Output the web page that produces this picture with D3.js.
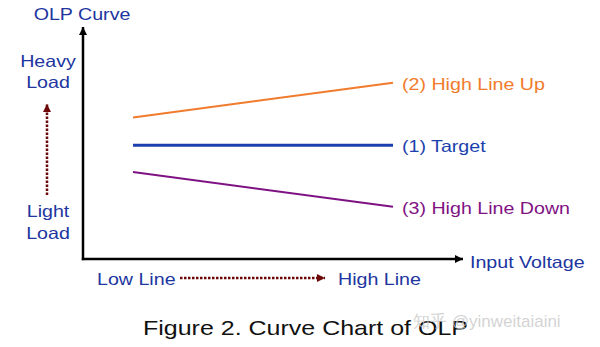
<!DOCTYPE html>
<html>
<head>
<meta charset="utf-8">
<script src="https://cdn.jsdelivr.net/npm/d3@7"></script>
<style>
  body { margin: 0; background: #fff; }
  text { font-family: "Liberation Sans", Arial, sans-serif; }
</style>
</head>
<body>
<script>
// chart data
var seriesNames = ["(2) High Line Up", "(1) Target", "(3) High Line Down"];
var seriesColors = ["#f07b2c", "#1c3fae", "#7f1283"];
var seriesWidths = [2, 3, 2];
var loadAtLowLine = [61, 49, 37.5];   // load (0-100) at low line
var loadAtHighLine = [76, 49, 22.5];  // load (0-100) at high line
var inputPoints = [0, 1];             // 0 = low line, 1 = high line

var width = 600, height = 347;
var blue = "#2035a0", darkRed = "#6e0808";
var sx = 1.19; // the source text is horizontally stretched

var svg = d3.select("body").append("svg")
  .attr("width", width)
  .attr("height", height);

var defs = svg.append("defs");
function marker(id, color, w, h) {
  defs.append("marker")
    .attr("id", id)
    .attr("viewBox", "0 0 10 10")
    .attr("refX", 10).attr("refY", 5)
    .attr("markerUnits", "userSpaceOnUse")
    .attr("markerWidth", w).attr("markerHeight", h)
    .attr("orient", "auto")
    .append("path")
    .attr("d", "M0,0L10,5L0,10Z")
    .attr("fill", color);
}
marker("axisHead", "#000", 11, 8);
marker("dashHead", darkRed, 9, 8);

// scales
var origin = {x: 83, y: 259};
var xScale = d3.scaleLinear().domain([0, 1]).range([133, 393]);
var yScale = d3.scaleLinear().domain([0, 100]).range([origin.y, 27]);

// axes
svg.append("line")
  .attr("x1", origin.x).attr("y1", origin.y + 1.2)
  .attr("x2", origin.x).attr("y2", 27)
  .attr("stroke", "#000").attr("stroke-width", 2.5)
  .attr("marker-end", "url(#axisHead)");
svg.append("line")
  .attr("x1", origin.x - 1.2).attr("y1", origin.y)
  .attr("x2", 463).attr("y2", origin.y)
  .attr("stroke", "#000").attr("stroke-width", 2.5)
  .attr("marker-end", "url(#axisHead)");

// curves
var line = d3.line()
  .x(function(d) { return xScale(d[0]); })
  .y(function(d) { return yScale(d[1]); });

seriesNames.forEach(function(name, i) {
  var pts = [[inputPoints[0], loadAtLowLine[i]], [inputPoints[1], loadAtHighLine[i]]];
  svg.append("path")
    .attr("d", line(pts))
    .attr("fill", "none")
    .attr("stroke", seriesColors[i])
    .attr("stroke-width", seriesWidths[i]);
  addText(name, xScale(1) + 9, yScale(loadAtHighLine[i]) + 7, 16.5, seriesColors[i], "start");
});

function addText(str, x, y, size, color, anchor) {
  return svg.append("text")
    .attr("transform", "translate(" + x + "," + y + ") scale(" + sx + ",1)")
    .attr("text-anchor", anchor)
    .attr("font-size", size)
    .attr("fill", color)
    .text(str);
}

// axis labels
addText("OLP Curve", 82, 20, 16.5, blue, "middle");
addText("Heavy", 48, 67, 16.5, blue, "middle");
addText("Load", 48, 88, 16.5, blue, "middle");
addText("Light", 48, 217, 16.5, blue, "middle");
addText("Load", 48, 239, 16.5, blue, "middle");
addText("Input Voltage", 470, 268, 16.5, blue, "start");
addText("Low Line", 97, 285, 16.5, blue, "start");
addText("High Line", 338, 285, 16.5, blue, "start");

// dashed direction arrows
svg.append("line")
  .attr("x1", 47).attr("y1", 195).attr("x2", 47).attr("y2", 104)
  .attr("stroke", darkRed).attr("stroke-width", 2.5)
  .attr("stroke-dasharray", "2.5,1.5")
  .attr("marker-end", "url(#dashHead)");
svg.append("line")
  .attr("x1", 180).attr("y1", 278).attr("x2", 325).attr("y2", 278)
  .attr("stroke", darkRed).attr("stroke-width", 2.5)
  .attr("stroke-dasharray", "2.5,1.5")
  .attr("marker-end", "url(#dashHead)");

// caption
addText("Figure 2. Curve Chart of OLP", 143, 335, 21, "#111", "start");

// watermark
svg.append("text")
  .attr("x", 413).attr("y", 327)
  .attr("font-size", 17)
  .attr("fill", "#c8c8c8")
  .attr("fill-opacity", 0.8)
  .attr("font-family", "Noto Sans CJK SC, sans-serif")
  .text("知乎 @yinweitaiaini");
</script>
</body>
</html>
